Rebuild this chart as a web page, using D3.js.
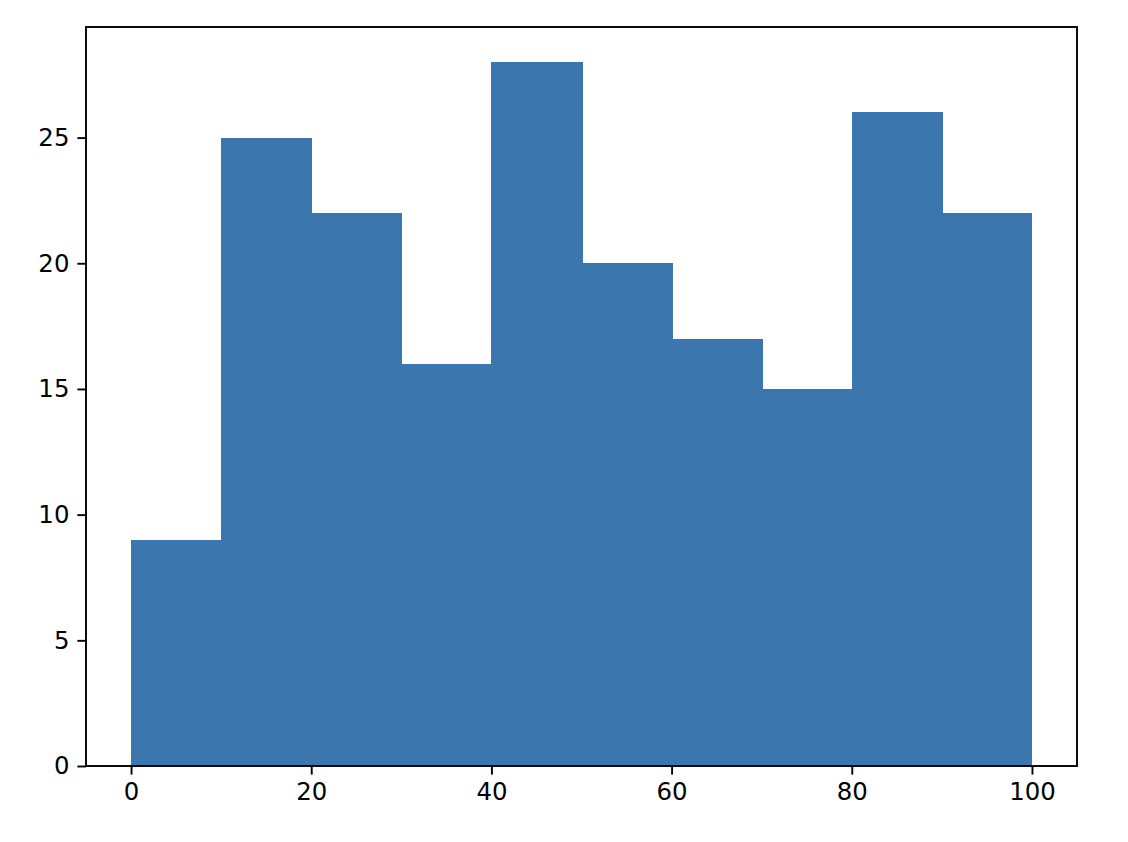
<!DOCTYPE html>
<html>
<head>
<meta charset="utf-8">
<script src="https://cdn.jsdelivr.net/npm/d3@7"></script>
<style>
  body { margin: 0; background: #fff; }
  svg text { font-family: "DejaVu Sans", sans-serif; }
</style>
</head>
<body>
<div id="chart"></div>
<script>
var binStarts = [0, 10, 20, 30, 40, 50, 60, 70, 80, 90];
var binWidth = 10;
var counts = [9, 25, 22, 16, 28, 20, 17, 15, 26, 22];
var xTicks = [0, 20, 40, 60, 80, 100];
var yTicks = [0, 5, 10, 15, 20, 25];

var elWidth = 1128, elHeight = 842;
var margin = {top: 27, right: 51, bottom: 76, left: 86};
var width = elWidth - margin.left - margin.right;
var height = elHeight - margin.top - margin.bottom;

var svg = d3.select('#chart').append('svg')
	.attr('width', elWidth)
	.attr('height', elHeight);
var g = svg.append('g').attr('transform', 'translate(' + margin.left + ',' + margin.top + ')');

var x = d3.scaleLinear().domain([-5, 105]).range([0, width]);
var y = d3.scaleLinear().domain([0, d3.max(counts) * 1.05]).range([height, 0]);

// one path per histogram so neighbouring bars show no seam
var bars = g.append('g').attr('shape-rendering', 'crispEdges');
bars.selectAll('rect.bar')
	.data(counts)
	.enter().append('rect')
	.attr('class', 'bar')
	.attr('x', function(d, i) { return x(binStarts[i]); })
	.attr('width', function(d, i) { return x(binStarts[i] + binWidth) - x(binStarts[i]) + (i < counts.length - 1 ? 1 : 0); })
	.attr('y', function(d) { return y(d); })
	.attr('height', function(d) { return y(0) - y(d); })
	.attr('fill', '#3b76ae');

var xAxis = g.append('g')
	.attr('transform', 'translate(0,' + height + ')')
	.call(d3.axisBottom(x).tickValues(xTicks).tickSize(8.6).tickPadding(8).tickFormat(d3.format('d')));
var yAxis = g.append('g')
	.call(d3.axisLeft(y).tickValues(yTicks).tickSize(8.6).tickPadding(8).tickFormat(d3.format('d')));

[xAxis, yAxis].forEach(function(a) {
	a.select('.domain').remove();
	a.selectAll('.tick line').attr('stroke', '#000').attr('stroke-width', 1.9);
	a.selectAll('.tick text').attr('fill', '#000').style('font-size', '24.4px');
});

g.append('rect')
	.attr('x', 0).attr('y', 0)
	.attr('width', width).attr('height', height)
	.attr('fill', 'none')
	.attr('stroke', '#000')
	.attr('stroke-width', 1.9);
</script>
</body>
</html>
